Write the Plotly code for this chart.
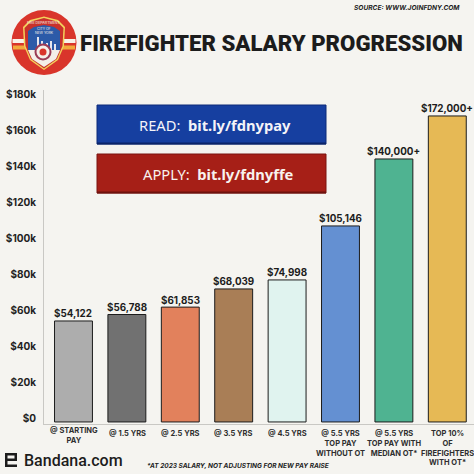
import plotly.graph_objects as go

categories = ["@ STARTING<br>PAY", "@ 1.5 YRS", "@ 2.5 YRS", "@ 3.5 YRS", "@ 4.5 YRS",
              "@ 5.5 YRS<br>TOP PAY<br>WITHOUT OT", "@ 5.5 YRS<br>TOP PAY WITH<br>MEDIAN OT*",
              "TOP 10%<br>OF<br>FIREFIGHTERS<br>WITH OT*"]
bar_heights = [53900, 57500, 61600, 71700, 76700, 106700, 143900, 167800]
value_labels = ["$54,122", "$56,788", "$61,853", "$68,039", "$74,998", "$105,146", "$140,000+", "$172,000+"]
bar_colors = ["#adadad", "#717171", "#e2815c", "#a97e56", "#e0f3ef", "#6490d2", "#4fb391", "#e6b955"]
tick_values = [0, 20000, 40000, 60000, 80000, 100000, 120000, 140000, 160000, 180000]
tick_labels = ["$0", "$20k", "$40k", "$60k", "$80k", "$100k", "$120k", "$140k", "$160k", "$180k"]

W = H = 474
BG = "#f5f4f0"
PLOT_L, PLOT_R, PLOT_T, PLOT_B = 44, 474, 90, 424
def px(x): return (x - PLOT_L) / (PLOT_R - PLOT_L)
def py(y): return (PLOT_B - y) / (PLOT_B - PLOT_T)

PX_PER_UNIT = 1.8 / 1000
ZERO_Y = 418
y_lo = -(PLOT_B - ZERO_Y) / PX_PER_UNIT
y_hi = (ZERO_Y - PLOT_T) / PX_PER_UNIT
BASE = -2200

fig = go.Figure(go.Bar(
    x=list(range(8)),
    y=[v - BASE for v in bar_heights],
    base=BASE,
    width=0.71,
    marker=dict(color=bar_colors, line=dict(color="#1c1c1c", width=1)),
    hoverinfo="skip",
))

shapes = []
def rect(x0, y0, x1, y1, color, line=None):
    shapes.append(dict(type="rect", xref="paper", yref="paper", x0=px(x0), x1=px(x1), y0=py(y0), y1=py(y1),
                       fillcolor=color, line=dict(width=1 if line else 0, color=line or color), layer="above"))
def circle(cx, cy, r, color):
    shapes.append(dict(type="circle", xref="paper", yref="paper", x0=px(cx-r), x1=px(cx+r), y0=py(cy-r), y1=py(cy+r),
                       fillcolor=color, line=dict(width=0), layer="above"))
def path(points, color):
    d = "M" + " L".join(f"{px(a):.4f},{py(b):.4f}" for a, b in points) + " Z"
    shapes.append(dict(type="path", xref="paper", yref="paper", path=d, fillcolor=color, line=dict(width=0), layer="above"))

# Logo
circle(44, 42.5, 32.5, "#d9352b")
rect(12.5, 39, 75.5, 43, "#f7f2e8")
rect(13, 45.5, 75, 49.5, "#f2a93b")
path([(44,16.5),(58,20),(65,27),(64,46),(58,60),(44,70),(30,60),(24,46),(23,27),(30,20)], "#f3d35c")
path([(44,18),(57,21.5),(63.5,28),(62.5,46),(57,59),(44,68.5),(31,59),(25.5,46),(24.5,28),(31,21.5)], "#c9312b")
path([(44,25),(54,27),(60,31),(60,50),(28,50),(28,31),(34,27)], "#2c5aa8")
path([(28,50),(60,50),(56,59),(44,67),(32,59)], "#f4efe8")
for x0, y0, x1 in [(37,37,39),(41,41,43),(46,43,48),(50,41,52),(54,44,56)]:
    rect(x0, y0, x1, 50, "#e6e6ee")
circle(43, 52, 8.5, "#9a3b55")
circle(43, 52, 6.5, "#f4efe8")
circle(43, 52, 3.5, "#d9352b")

# Callout boxes
rect(97, 105, 326, 144, "#163fa0", "#0d2a78")
rect(97, 142.5, 326, 144.5, "#0b2468")
rect(97, 154, 326, 193, "#a61f17", "#7a1510")
rect(97, 191.5, 326, 193.5, "#6e120e")
# Bandana mark
rect(5, 453, 17, 455.5, "#1c1c1c")
rect(5, 458.5, 17, 461, "#1c1c1c")
rect(5, 464.5, 17, 467, "#1c1c1c")
rect(5, 453, 7.5, 467, "#1c1c1c")
rect(14.5, 453, 17, 461, "#1c1c1c")

ann = []
def note(x, y, text, size, family="Inter", color="#1c1c1c", anchor="center", **kw):
    ann.append(dict(xref="paper", yref="paper", x=px(x), y=py(y), text=text, showarrow=False, xanchor=anchor, yanchor="middle",
                    font=dict(family=family, size=size, color=color, **kw), align="center"))

note(271.5, 43, "FIREFIGHTER SALARY PROGRESSION", 22.2, family="Roboto", weight=900)
note(462, 8.5, "<b><i>SOURCE: WWW.JOINFDNY.COM</i></b>", 6.6, anchor="right")
note(215, 125, "READ:  <b>bit.ly/fdnypay</b>", 14.7, color="#f4f4f8", family="Noto Sans")
note(218, 174, "APPLY:  <b>bit.ly/fdnyffe</b>", 14.7, color="#f8f2ee", family="Noto Sans")
note(22, 460, "Bandana.com", 16, family="Roboto", anchor="left", weight=500)
note(238.5, 466, "<b><i>*AT 2023 SALARY, NOT ADJUSTING FOR NEW PAY RAISE</i></b>", 6.5)
note(44, 23, "FIRE DEPARTMENT", 3.6, color="#f7f2e8")
note(44, 29, "CITY OF", 3.4, color="#f7f2e8")
note(44, 33, "NEW YORK", 3.4, color="#f7f2e8")

for i, (v, label) in enumerate(zip(bar_heights, value_labels)):
    ann.append(dict(xref="x", yref="y", x=i, y=v, text=label, showarrow=False, xanchor="center", yanchor="bottom",
                    yshift=1.5, borderpad=0, borderwidth=0,
                    font=dict(family="Inter", size=9.8, color="#1c1c1c", weight=700)))

cat_x = [73.5, 127, 180.5, 233.5, 287, 340.5, 394, 447]
tops = [424, 426.7, 426.7, 426.7, 426.7, 426.7, 426.7, 426.7]
for x, label, top in zip(cat_x, categories, tops):
    ann.append(dict(xref="paper", yref="paper", x=px(x), y=py(top), text="<b>" + label + "</b>", showarrow=False,
                    xanchor="center", yanchor="top", align="center",
                    font=dict(family="Inter", size=7.5, color="#2e2e2e")))

fig.update_layout(
    width=W, height=H, autosize=False, showlegend=False,
    margin=dict(l=PLOT_L, r=W - PLOT_R, t=PLOT_T, b=H - PLOT_B, pad=0),
    paper_bgcolor=BG, plot_bgcolor=BG,
    shapes=shapes, annotations=ann,
    xaxis=dict(range=[-0.552, 7.5], showticklabels=False, ticks="", showgrid=False, zeroline=False,
               showline=True, linecolor="#c9c8c4", linewidth=1, fixedrange=True),
    yaxis=dict(range=[y_lo, y_hi], tickvals=tick_values, ticktext=tick_labels, ticks="", showgrid=False,
               zeroline=False, showline=True, linecolor="#c9c8c4", linewidth=1, fixedrange=True, ticklabelstandoff=5,
               tickfont=dict(family="Inter", size=10, color="#222222", weight=700)),
)
fig.write_html("out.html", config={"displayModeBar": False},
               post_script="document.body.style.margin='0';document.documentElement.style.overflow='hidden';")
